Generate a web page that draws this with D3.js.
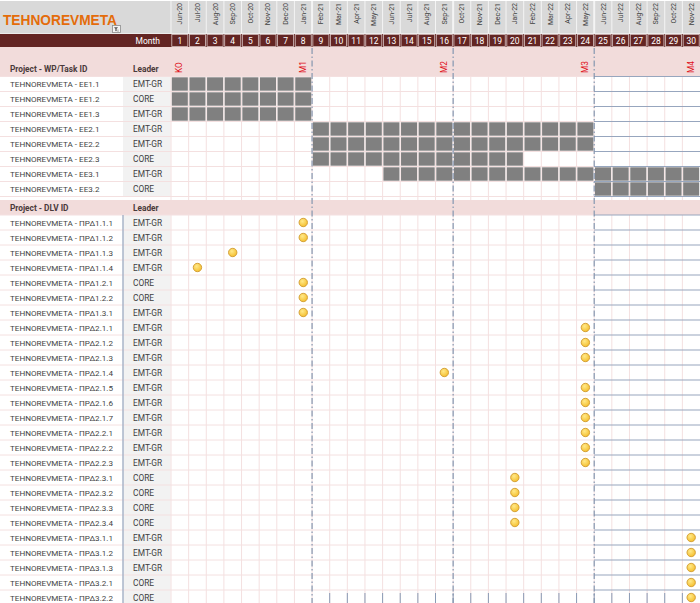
<!DOCTYPE html>
<html><head><meta charset="utf-8">
<script src="https://cdn.jsdelivr.net/npm/d3@7/dist/d3.min.js"></script>
<style>html,body{margin:0;padding:0;background:#fff;}svg{display:block;}</style>
</head><body>
<script>
const title = "TEHNOREVMETA";
const months = ["Jun-20","Jul-20","Aug-20","Sep-20","Oct-20","Nov-20","Dec-20","Jan-21","Feb-21","Mar-21","Apr-21","May-21","Jun-21","Jul-21","Aug-21","Sep-21","Oct-21","Nov-21","Dec-21","Jan-22","Feb-22","Mar-22","Apr-22","May-22","Jun-22","Jul-22","Aug-22","Sep-22","Oct-22","Nov-22"];
const monthNums = d3.range(1, 31);
const milestones = ["KO","M1","M2","M3","M4"];
const milestoneMonth = [1, 8, 16, 24, 30];
const milestoneLines = [8, 16, 24];

const tasks = ["TEHNOREVMETA - EE1.1","TEHNOREVMETA - EE1.2","TEHNOREVMETA - EE1.3","TEHNOREVMETA - EE2.1","TEHNOREVMETA - EE2.2","TEHNOREVMETA - EE2.3","TEHNOREVMETA - EE3.1","TEHNOREVMETA - EE3.2"];
const taskLeaders = ["EMT-GR","CORE","EMT-GR","EMT-GR","EMT-GR","CORE","EMT-GR","CORE"];
const taskStart = [1, 1, 1, 9, 9, 9, 13, 25];
const taskEnd   = [8, 8, 8, 24, 24, 20, 30, 30];

const dlvs = ["TEHNOREVMETA - ΠΡΔ1.1.1","TEHNOREVMETA - ΠΡΔ1.1.2","TEHNOREVMETA - ΠΡΔ1.1.3","TEHNOREVMETA - ΠΡΔ1.1.4","TEHNOREVMETA - ΠΡΔ1.2.1","TEHNOREVMETA - ΠΡΔ1.2.2","TEHNOREVMETA - ΠΡΔ1.3.1","TEHNOREVMETA - ΠΡΔ2.1.1","TEHNOREVMETA - ΠΡΔ2.1.2","TEHNOREVMETA - ΠΡΔ2.1.3","TEHNOREVMETA - ΠΡΔ2.1.4","TEHNOREVMETA - ΠΡΔ2.1.5","TEHNOREVMETA - ΠΡΔ2.1.6","TEHNOREVMETA - ΠΡΔ2.1.7","TEHNOREVMETA - ΠΡΔ2.2.1","TEHNOREVMETA - ΠΡΔ2.2.2","TEHNOREVMETA - ΠΡΔ2.2.3","TEHNOREVMETA - ΠΡΔ2.3.1","TEHNOREVMETA - ΠΡΔ2.3.2","TEHNOREVMETA - ΠΡΔ2.3.3","TEHNOREVMETA - ΠΡΔ2.3.4","TEHNOREVMETA - ΠΡΔ3.1.1","TEHNOREVMETA - ΠΡΔ3.1.2","TEHNOREVMETA - ΠΡΔ3.1.3","TEHNOREVMETA - ΠΡΔ3.2.1","TEHNOREVMETA - ΠΡΔ3.2.2"];
const dlvLeaders = ["EMT-GR","EMT-GR","EMT-GR","EMT-GR","CORE","CORE","EMT-GR","EMT-GR","EMT-GR","EMT-GR","EMT-GR","EMT-GR","EMT-GR","EMT-GR","EMT-GR","EMT-GR","EMT-GR","CORE","CORE","CORE","CORE","EMT-GR","EMT-GR","EMT-GR","CORE","CORE"];
const dlvMonth = [8, 8, 4, 2, 8, 8, 8, 24, 24, 24, 16, 24, 24, 24, 24, 24, 24, 20, 20, 20, 20, 30, 30, 30, 30, 30];

const W = 700, H = 603;
const FONT = "Roboto, 'Liberation Sans', sans-serif";
const PINK = "#f2dcdb", DARK = "#632523", GRID = "#f4e0e0", BLUE = "#8a9bb5";

const svg = d3.select("body").append("svg").attr("width", W).attr("height", H)
  .style("font-family", FONT);

const x = d3.scaleBand().domain(monthNums).range([171, 700]);
const yTask = d3.scaleBand().domain(tasks).range([76.5, 196.5]);
const yDlv = d3.scaleBand().domain(dlvs).range([215, 605]);
const bw = x.bandwidth();

// Header gray
svg.append("rect").attr("x", 0).attr("y", 1).attr("width", W).attr("height", 32.5).attr("fill", "#d9d9d9");
svg.append("g").selectAll("line").data(monthNums).join("line")
  .attr("x1", d => x(d)).attr("x2", d => x(d)).attr("y1", 1).attr("y2", 33.5)
  .attr("stroke", "#f4f4f4").attr("stroke-width", d => milestoneLines.includes(d - 1) ? 2 : 1);
svg.append("g").selectAll("text").data(months).join("text")
  .attr("transform", (d, i) => `translate(${x(i + 1) + bw / 2 + 2.5},3) rotate(-90)`)
  .attr("text-anchor", "end").attr("font-size", 7).attr("fill", "#404040").text(d => d);

// Title
svg.append("text").attr("x", 3).attr("y", 25).attr("font-size", 15).attr("font-weight", "bold")
  .attr("fill", "#e46c0a").attr("font-family", "'Liberation Sans', Arial, sans-serif")
  .attr("textLength", 114).attr("lengthAdjust", "spacingAndGlyphs").text(title);
svg.append("rect").attr("x", 112.5).attr("y", 25.5).attr("width", 8).attr("height", 7)
  .attr("fill", "#f4f4f4").attr("stroke", "#8c8c8c").attr("stroke-width", 0.8);
svg.append("path").attr("d", "M114.5 27.5 h3 l-1.2 1.5 v2 h-0.6 v-2 z M118 29.5 v2.5").attr("fill", "#555").attr("stroke", "#555").attr("stroke-width", 0.5);

// Month band
svg.append("rect").attr("x", 0).attr("y", 34).attr("width", W).attr("height", 13).attr("fill", DARK);
svg.append("text").attr("x", 160).attr("y", 44).attr("text-anchor", "end").attr("font-size", 8.5)
  .attr("fill", "#fff").text("Month");
svg.append("g").selectAll("rect").data(monthNums).join("rect")
  .attr("x", d => x(d) + 0.8).attr("y", 34.5).attr("width", bw - 1.6).attr("height", 12)
  .attr("fill", DARK).attr("stroke", "#d9c6c6").attr("stroke-width", 0.8);
svg.append("g").selectAll("text").data(monthNums).join("text")
  .attr("x", d => x(d) + bw / 2).attr("y", 44.3).attr("text-anchor", "middle")
  .attr("font-size", 8.5).attr("fill", "#fff").text(d => d);

// Pink header band (tasks)
svg.append("rect").attr("x", 0).attr("y", 47).attr("width", W).attr("height", 29.5).attr("fill", PINK);
svg.append("text").attr("x", 10).attr("y", 72).attr("font-size", 8.3).attr("font-weight", "bold")
  .attr("fill", "#4a3a3a").text("Project - WP/Task ID");
svg.append("text").attr("x", 133).attr("y", 72).attr("font-size", 8.3).attr("font-weight", "bold")
  .attr("fill", "#4a3a3a").text("Leader");
svg.append("g").selectAll("text").data(milestones).join("text")
  .attr("transform", (d, i) => `translate(${x(milestoneMonth[i]) + bw / 2 + 2.5},73) rotate(-90)`)
  .attr("font-size", 8.3).attr("fill", "#e0101a").text(d => d);

// DLV header band
svg.append("rect").attr("x", 0).attr("y", 200).attr("width", W).attr("height", 15).attr("fill", PINK);
svg.append("text").attr("x", 10).attr("y", 211).attr("font-size", 8.3).attr("font-weight", "bold")
  .attr("fill", "#4a3a3a").text("Project - DLV ID");
svg.append("text").attr("x", 133).attr("y", 211).attr("font-size", 8.3).attr("font-weight", "bold")
  .attr("fill", "#4a3a3a").text("Leader");

// Leader column backgrounds
svg.append("rect").attr("x", 123).attr("y", 76.5).attr("width", 47.5).attr("height", 120).attr("fill", "#f2f2f2");
svg.append("rect").attr("x", 123).attr("y", 215).attr("width", 47.5).attr("height", 390).attr("fill", "#f2f2f2");

// vertical grid lines
const vb = d3.range(0, 30);
[[76.5, 200], [215, 603]].forEach(([a, b]) => {
  svg.append("g").selectAll("line").data(vb).join("line")
    .attr("x1", d => x(d + 1)).attr("x2", d => x(d + 1)).attr("y1", a).attr("y2", b)
    .attr("stroke", GRID).attr("stroke-width", 1);
});

// horizontal grid lines
function hlines(scale, list) {
  const ys = list.map(d => scale(d)).concat([scale(list[list.length - 1]) + scale.bandwidth()]);
  svg.append("g").selectAll("line").data(ys).join("line")
    .attr("x1", 0).attr("x2", 594).attr("y1", d => d).attr("y2", d => d)
    .attr("stroke", GRID).attr("stroke-width", 1);
  svg.append("g").selectAll("line").data(ys).join("line")
    .attr("x1", 594).attr("x2", 700).attr("y1", d => d).attr("y2", d => d)
    .attr("stroke", "#97a6be").attr("stroke-width", 1.2);
}
hlines(yTask, tasks);
hlines(yDlv, dlvs);

// Gantt cells
const cells = [];
tasks.forEach((t, i) => { for (let m = taskStart[i]; m <= taskEnd[i]; m++) cells.push({ t, m }); });
svg.append("g").selectAll("rect").data(cells).join("rect")
  .attr("x", d => x(d.m) + 0.8).attr("y", d => yTask(d.t) + 0.8)
  .attr("width", bw - 1.6).attr("height", yTask.bandwidth() - 1.6)
  .attr("fill", "#808080");

// Left labels
const LFS = 8.1;
svg.append("g").selectAll("text").data(tasks).join("text")
  .attr("x", 10).attr("y", d => yTask(d) + yTask.bandwidth() / 2 + 3)
  .attr("font-size", LFS).attr("fill", "#3f3f3f").text(d => d);
svg.append("g").selectAll("text").data(taskLeaders).join("text")
  .attr("x", 133).attr("y", (d, i) => yTask(tasks[i]) + yTask.bandwidth() / 2 + 3)
  .attr("font-size", 8.4).attr("fill", "#3f3f3f").text(d => d);
svg.append("g").selectAll("text").data(dlvs).join("text")
  .attr("x", 10).attr("y", d => yDlv(d) + yDlv.bandwidth() / 2 + 3)
  .attr("font-size", LFS).attr("fill", "#3f3f3f").text(d => d);
svg.append("g").selectAll("text").data(dlvLeaders).join("text")
  .attr("x", 133).attr("y", (d, i) => yDlv(dlvs[i]) + yDlv.bandwidth() / 2 + 3)
  .attr("font-size", 8.4).attr("fill", "#3f3f3f").text(d => d);

// DLV left separator
svg.append("line").attr("x1", 123).attr("x2", 123).attr("y1", 215).attr("y2", 603)
  .attr("stroke", "#a8b4c8").attr("stroke-width", 1.5);

// last-row ticks
const lastY = yDlv(dlvs[dlvs.length - 1]);
svg.append("g").selectAll("line").data(d3.range(10, 31)).join("line")
  .attr("x1", d => x(d)).attr("x2", d => x(d)).attr("y1", lastY + 3).attr("y2", 603)
  .attr("stroke", BLUE).attr("stroke-width", 1);

// Milestone dash-dot lines
svg.append("g").selectAll("line").data(milestoneLines).join("line")
  .attr("x1", d => x(d) + bw).attr("x2", d => x(d) + bw).attr("y1", 48).attr("y2", 603)
  .attr("stroke", "#8497b0").attr("stroke-width", 1.2).attr("stroke-dasharray", "6,2.5,1.5,2.5");

// Deliverable circles
const defs = svg.append("defs");
const g = defs.append("radialGradient").attr("id", "gold").attr("cx", "40%").attr("cy", "35%").attr("r", "65%");
g.append("stop").attr("offset", "0%").attr("stop-color", "#ffe98a");
g.append("stop").attr("offset", "100%").attr("stop-color", "#f5c030");
svg.append("g").selectAll("circle").data(dlvs).join("circle")
  .attr("cx", (d, i) => x(dlvMonth[i]) + bw / 2)
  .attr("cy", d => yDlv(d) + yDlv.bandwidth() / 2)
  .attr("r", 4.2).attr("fill", "url(#gold)").attr("stroke", "#d09a30").attr("stroke-width", 0.9);
</script>
</body></html>
